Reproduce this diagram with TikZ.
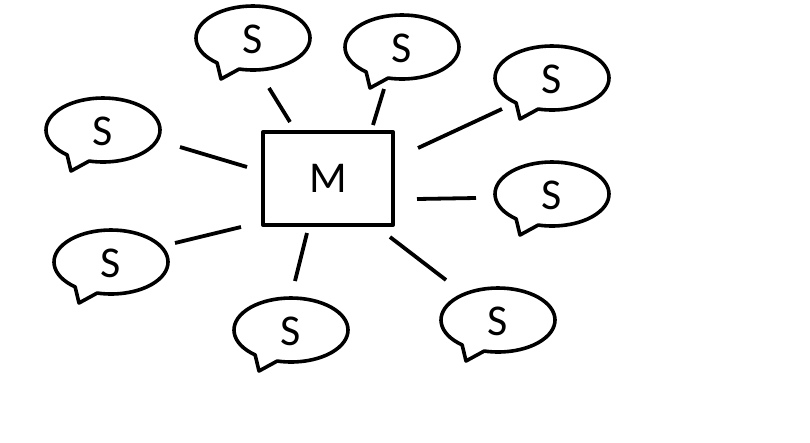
\documentclass[tikz,border=0pt]{standalone}
\usepackage{fontspec}
\setmainfont{Carlito}
\begin{document}
\begin{tikzpicture}[x=1pt,y=-1pt,
  outline/.style={line width=3.6pt,line join=round},
  conn/.style={line width=3.8pt},
  lbl/.style={font=\fontsize{44}{46}\selectfont,inner sep=0pt},
  bubble/.pic={\draw[outline] (129:57 and 32) arc[start angle=129,end angle=464,x radius=57,y radius=32] -- (-32,41) -- cycle;}]
\fill[white] (0,0) rectangle (810,442);
\useasboundingbox (0,0) rectangle (810,442);
% master box
\draw[outline,line width=4pt] (263,132) rectangle (393,225);
\node[lbl] (m) at (328,178) {M};
% bubbles
\foreach \n/\x/\y in {1/253/38,2/402/47,3/552/78,4/552/194,5/291/330,6/498/320,7/103/130,8/111/262}{
  \pic at (\x,\y) {bubble};
  \node[lbl] (s\n) at (\x,\y+1) {S};
}
% connector ends
\coordinate (a1) at (269,88);  \coordinate (c1) at (290,122);
\coordinate (a2) at (384,89);  \coordinate (c2) at (373,125);
\coordinate (a3) at (502,109); \coordinate (c3) at (418,148);
\coordinate (a4) at (476,198); \coordinate (c4) at (417,199);
\coordinate (a5) at (295,281); \coordinate (c5) at (307,233);
\coordinate (a6) at (446,280); \coordinate (c6) at (390,237);
\coordinate (a7) at (175,243); \coordinate (c7) at (241,227);
\coordinate (a8) at (180,147); \coordinate (c8) at (247,167);
\foreach \i in {1,...,8}{\draw[conn] (c\i) -- (a\i);}
\end{tikzpicture}
\end{document}
